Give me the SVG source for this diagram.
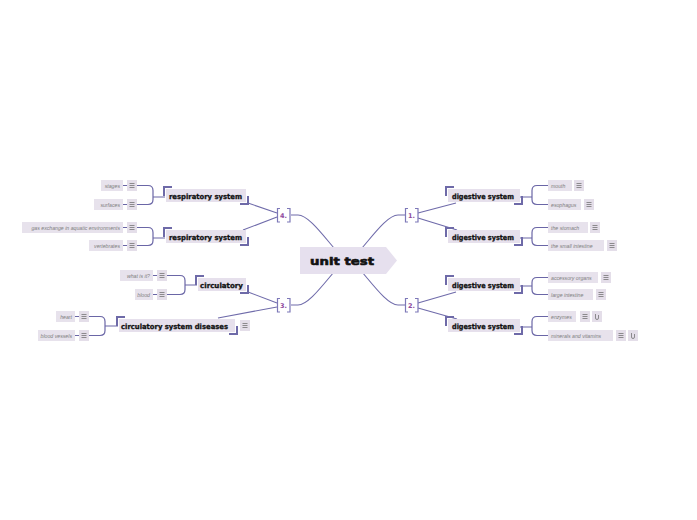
<svg xmlns="http://www.w3.org/2000/svg" width="697" height="520" viewBox="0 0 697 520">
<defs>
<style>
.bg{fill:#ffffff}
.conn{fill:none;stroke:#6f6baa;stroke-width:1.1}
.fork{fill:none;stroke:#6a66a6;stroke-width:1.2}
.brk{fill:none;stroke:#7d78b8;stroke-width:1.2}
.num{font-family:"DejaVu Sans",sans-serif;font-weight:bold;font-size:6.5px;fill:#8e4a9e;text-anchor:middle}
.center{fill:#e6e0ee}
.ctext{font-family:"DejaVu Sans",sans-serif;font-weight:bold;font-size:11px;fill:#111;stroke:#111;stroke-width:0.6}
.sub{fill:#e6e0ec}
.corner{fill:none;stroke:#6e6aa8;stroke-width:2}
.stext{font-family:"DejaVu Sans",sans-serif;font-weight:bold;font-size:7.2px;fill:#111;stroke:#111;stroke-width:0.3}
.leaf{fill:#e7e2ec}
.ltext{font-family:"Liberation Sans",sans-serif;font-style:italic;font-size:5.2px;fill:#808080}
.ico{fill:#e4dee9}
.icl{fill:none;stroke:#666;stroke-width:0.7}
</style>
<g id="menu"><rect class="ico" x="0" y="0" width="10" height="11"/><path class="icl" d="M2.5,3.5H7.5M2.5,5.5H7.5M2.5,7.5H7.5"/></g>
<g id="clip"><rect class="ico" x="0" y="0" width="10" height="11"/><path class="icl" d="M3.5,3V7Q3.5,8.5 5,8.5Q6.5,8.5 6.5,7V4"/></g>
</defs>
<rect class="bg" x="0" y="0" width="697" height="520"/>

<g id="connectors">
<path class="conn" d="M291,215H298C308,215 322,234 334,248"/>
<path class="conn" d="M405,215H398C388,215 374,234 362,248"/>
<path class="conn" d="M291,305H298C308,305 322,286 334,272"/>
<path class="conn" d="M405,305H398C388,305 374,286 362,272"/>
<path class="conn" d="M418,213L456,203"/>
<path class="conn" d="M418,218L457,230"/>
<path class="conn" d="M418,303L456,292"/>
<path class="conn" d="M418,308L457,319"/>
<path class="conn" d="M277,213L248,203"/>
<path class="conn" d="M277,217L243,230"/>
<path class="conn" d="M277,303L248,292"/>
<path class="conn" d="M277,307L218,318"/>
<path class="fork" d="M520,197H532M548,185.5H537Q532,185.5 532,190.5V199.5Q532,204.5 537,204.5H548"/>
<path class="fork" d="M520,238H532M548,227.5H537Q532,227.5 532,232.5V240.5Q532,245.5 537,245.5H548"/>
<path class="fork" d="M520,286H532M548,277.5H537Q532,277.5 532,282.5V289.5Q532,294.5 537,294.5H548"/>
<path class="fork" d="M520,327H532M548,316.5H537Q532,316.5 532,321.5V330.5Q532,335.5 537,335.5H548"/>
<path class="fork" d="M165,197H153M123,185.5H148Q153,185.5 153,190.5V199.5Q153,204.5 148,204.5H123"/>
<path class="fork" d="M165,238H153M123,227.5H148Q153,227.5 153,232.5V240.5Q153,245.5 148,245.5H123"/>
<path class="fork" d="M197,285H185M153,275.5H180Q185,275.5 185,280.5V289.5Q185,294.5 180,294.5H153"/>
<path class="fork" d="M118,326H105M75,316.5H100Q105,316.5 105,321.5V330.5Q105,335.5 100,335.5H75"/>
</g>

<g id="n-center">
<polygon class="center" points="300,247 386,247 397,260.5 386,274 300,274"/>
<text class="ctext" x="310" y="265" textLength="64" lengthAdjust="spacingAndGlyphs">unit test</text>
</g>

<g id="b1"><path class="brk" d="M408,208.5H405.5V222H408M415,208.5H418V222H415"/><text class="num" x="411.5" y="218">1.</text></g>
<g id="b2"><path class="brk" d="M408,298.5H405.5V312H408M415,298.5H418V312H415"/><text class="num" x="411.5" y="308">2.</text></g>
<g id="b3"><path class="brk" d="M280,298.5H277.5V312H280M287,298.5H290V312H287"/><text class="num" x="283.5" y="308">3.</text></g>
<g id="b4"><path class="brk" d="M280,208.5H277.5V222H280M287,208.5H290V222H287"/><text class="num" x="283.5" y="218">4.</text></g>

<g id="d1"><rect class="sub" x="448" y="189" width="72" height="13"/><path class="corner" d="M446,196V187H454M514,204H522V196"/><text class="stext" x="452" y="198.5" textLength="62" lengthAdjust="spacingAndGlyphs">digestive system</text></g>
<g id="d2"><rect class="sub" x="448" y="230" width="72" height="13"/><path class="corner" d="M446,237V228H454M514,245H522V237"/><text class="stext" x="452" y="239.5" textLength="62" lengthAdjust="spacingAndGlyphs">digestive system</text></g>
<g id="d3"><rect class="sub" x="448" y="278" width="72" height="13"/><path class="corner" d="M446,285V276H454M514,293H522V285"/><text class="stext" x="452" y="287.5" textLength="62" lengthAdjust="spacingAndGlyphs">digestive system</text></g>
<g id="d4"><rect class="sub" x="448" y="319" width="72" height="13"/><path class="corner" d="M446,326V317H454M514,334H522V326"/><text class="stext" x="452" y="328.5" textLength="62" lengthAdjust="spacingAndGlyphs">digestive system</text></g>

<g id="r1"><rect class="sub" x="166" y="189" width="80" height="13"/><path class="corner" d="M164,196V187H172M240,204H248V196"/><text class="stext" x="169" y="198.5" textLength="73" lengthAdjust="spacingAndGlyphs">respiratory system</text></g>
<g id="r2"><rect class="sub" x="166" y="230" width="80" height="13"/><path class="corner" d="M164,237V228H172M240,245H248V237"/><text class="stext" x="169" y="239.5" textLength="73" lengthAdjust="spacingAndGlyphs">respiratory system</text></g>
<g id="c1"><rect class="sub" x="198" y="278" width="48" height="13"/><path class="corner" d="M196,285V276H204M240,293H248V285"/><text class="stext" x="200" y="287.5" textLength="43" lengthAdjust="spacingAndGlyphs">circulatory</text></g>
<g id="c2"><rect class="sub" x="119" y="319" width="116" height="13"/><path class="corner" d="M117,326V317H125M229,334H237V326"/><text class="stext" x="121" y="328.5" textLength="107" lengthAdjust="spacingAndGlyphs">circulatory system diseases</text><use href="#menu" x="240" y="320"/></g>

<g id="l-mouth"><rect class="leaf" x="548" y="180" width="24" height="11"/><text class="ltext" x="551" y="187.5">mouth</text><use href="#menu" x="574" y="180"/></g>
<g id="l-esophagus"><rect class="leaf" x="548" y="199" width="33" height="11"/><text class="ltext" x="551" y="206.5">esophagus</text><use href="#menu" x="584" y="199"/></g>
<g id="l-stomach"><rect class="leaf" x="548" y="222" width="40" height="11"/><text class="ltext" x="551" y="229.5">the stomach</text><use href="#menu" x="590" y="222"/></g>
<g id="l-small"><rect class="leaf" x="548" y="240" width="56" height="11"/><text class="ltext" x="551" y="247.5">the small intestine</text><use href="#menu" x="607" y="240"/></g>
<g id="l-accessory"><rect class="leaf" x="548" y="272" width="50" height="11"/><text class="ltext" x="551" y="279.5">accessory organs</text><use href="#menu" x="601" y="272"/></g>
<g id="l-large"><rect class="leaf" x="548" y="289" width="45" height="11"/><text class="ltext" x="551" y="296.5">large intestine</text><use href="#menu" x="596" y="289"/></g>
<g id="l-enzymes"><rect class="leaf" x="548" y="311" width="28" height="11"/><text class="ltext" x="551" y="318.5">enzymes</text><use href="#menu" x="580" y="311"/><use href="#clip" x="592" y="311"/></g>
<g id="l-minerals"><rect class="leaf" x="548" y="330" width="65" height="11"/><text class="ltext" x="551" y="337.5">minerals and vitamins</text><use href="#menu" x="616" y="330"/><use href="#clip" x="628" y="330"/></g>

<g id="l-stages"><rect class="leaf" x="101" y="180" width="22" height="11"/><text class="ltext" x="120" y="187.5" text-anchor="end">stages</text><use href="#menu" x="127" y="180"/></g>
<g id="l-surfaces"><rect class="leaf" x="94" y="199" width="29" height="11"/><text class="ltext" x="120" y="206.5" text-anchor="end">surfaces</text><use href="#menu" x="127" y="199"/></g>
<g id="l-gas"><rect class="leaf" x="22" y="222" width="101" height="11"/><text class="ltext" x="120" y="229.5" text-anchor="end">gas exchange in aquatic environments</text><use href="#menu" x="127" y="222"/></g>
<g id="l-vertebrates"><rect class="leaf" x="89" y="240" width="34" height="11"/><text class="ltext" x="120" y="247.5" text-anchor="end">vertebrates</text><use href="#menu" x="127" y="240"/></g>
<g id="l-what"><rect class="leaf" x="120" y="270" width="33" height="11"/><text class="ltext" x="150" y="277.5" text-anchor="end">what is it?</text><use href="#menu" x="157" y="270"/></g>
<g id="l-blood"><rect class="leaf" x="135" y="289" width="18" height="11"/><text class="ltext" x="150" y="296.5" text-anchor="end">blood</text><use href="#menu" x="157" y="289"/></g>
<g id="l-heart"><rect class="leaf" x="56" y="311" width="19" height="11"/><text class="ltext" x="72" y="318.5" text-anchor="end">heart</text><use href="#menu" x="79" y="311"/></g>
<g id="l-vessels"><rect class="leaf" x="38" y="330" width="37" height="11"/><text class="ltext" x="72" y="337.5" text-anchor="end">blood vessels</text><use href="#menu" x="79" y="330"/></g>
</svg>
